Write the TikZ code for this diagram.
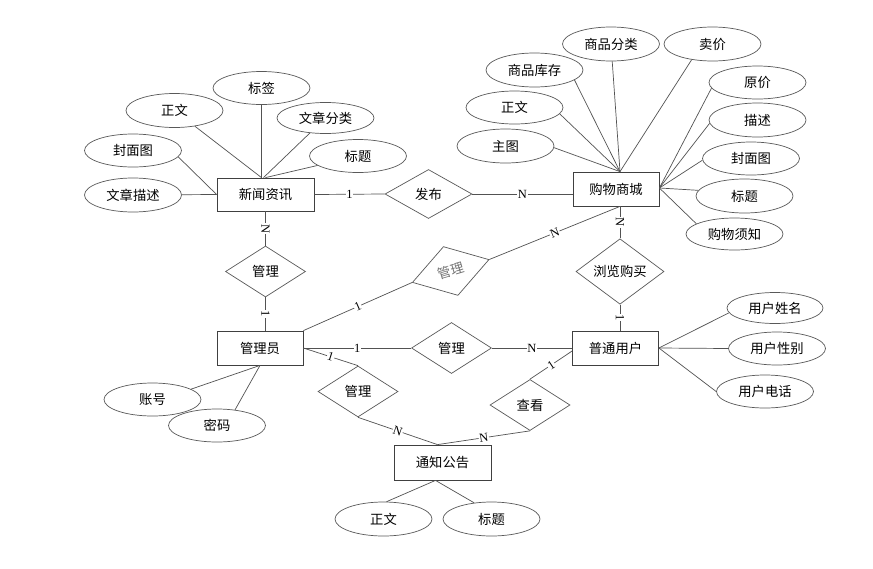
\documentclass[tikz,border=0pt]{standalone}
\usepackage{fontspec}
\newfontfamily\cjk{Noto Sans CJK SC}
\newfontfamily\labf{Liberation Serif}
\usetikzlibrary{shapes.geometric,calc}
\begin{document}
\begin{tikzpicture}[x=1pt,y=-1pt,
  cjkfont/.style={font=\cjk\fontsize{13.3}{15}\selectfont},
  ent/.style={draw=black!75, line width=0.8pt, rectangle, inner sep=0pt, cjkfont, minimum width=86pt, minimum height=34pt},
  attr/.style={draw=black!65, line width=0.7pt, ellipse, inner sep=0pt, minimum width=97pt, minimum height=33pt, cjkfont},
  rel/.style={draw=black!65, line width=0.7pt, diamond, inner sep=0pt, minimum width=80pt, minimum height=51pt, cjkfont},
  conn/.style={draw=black!68, line width=0.7pt},
  lab/.style={fill=white, inner sep=0.6pt, font=\labf\fontsize{12.5}{13}\selectfont}
]
\useasboundingbox[fill=white] (0,0) rectangle (873,568);

% entities
\node[ent, minimum width=97pt, minimum height=33pt] (xw) at (265.5,194.5) {新闻资讯};
\node[ent] (gw) at (616,189) {购物商城};
\node[ent] (gly) at (260,348) {管理员};
\node[ent] (pt) at (615.5,348) {普通用户};
\node[ent, minimum width=97pt, minimum height=35pt] (tz) at (442.5,462.5) {通知公告};

% relationships
\node[rel, minimum width=87pt, minimum height=49pt] (fb) at (428.5,194) {发布};
\node[rel] (gl1) at (265.5,271.5) {管理};
\node[rel, rotate=16.6, text=black!55] (gl2) at (450.7,271) {管理};
\node[rel, minimum width=88pt] (ll) at (620,271.5) {浏览购买};
\node[rel] (gl3) at (451.5,348) {管理};
\node[rel] (gl4) at (358,391.5) {管理};
\node[rel] (ck) at (530,405) {查看};

% connectors
\draw[conn] (xw.east) -- node[lab]{1} (fb.west);
\draw[conn] (fb.east) -- node[lab]{N} (fb.east -| gw.west);
\draw[conn] (xw.south) -- node[lab,sloped]{N} (gl1.north);
\draw[conn] (gl1.south) -- node[lab,sloped]{1} (gl1.south |- gly.north);
\draw[conn] (gly.north east) -- node[lab,sloped]{1} (gl2.west);
\draw[conn] (gl2.east) -- node[lab,sloped]{N} (ll.north |- gw.south);
\draw[conn] (ll.north |- gw.south) -- node[lab,sloped]{N} (ll.north);
\draw[conn] (ll.south) -- node[lab,sloped]{1} (ll.south |- pt.north);
\draw[conn] (gly.east) -- node[lab]{1} (gl3.west);
\draw[conn] (gl3.east) -- node[lab]{N} (pt.west);
\draw[conn] (gly.east) -- node[lab,sloped]{1} (gl4.north);
\draw[conn] (gl4.south) -- node[lab,sloped]{N} ($(tz.north)+(-5,0)$);
\draw[conn] (ck.south) -- node[lab,sloped]{N} ($(tz.north)+(-5,0)$);
\draw[conn] (ck.north) -- node[lab,sloped]{1} ($(pt.west)+(0,3)$);

% attributes of 新闻资讯
\node[attr] (x1) at (261.5,88) {标签};
\node[attr, minimum width=97pt, minimum height=34pt] (x2) at (174.5,110.5) {正文};
\node[attr, minimum height=31pt] (x3) at (325.5,118) {文章分类};
\node[attr] (x4) at (133,150.5) {封面图};
\node[attr] (x5) at (358,156) {标题};
\node[attr, minimum height=34pt] (x6) at (133,195) {文章描述};
\draw[conn] (x1.south) -- ($(xw.north)+(-4,0)$);
\draw[conn] (x2) -- ($(xw.north)+(-4,0)$);
\draw[conn] (x3) -- ($(xw.north)+(-2,0)$);
\draw[conn] (x5) -- (xw.north);
\draw[conn] (x4.-8) -- (xw.west);
\draw[conn] (x6) -- (xw.west);

% attributes of 购物商城
\node[attr, minimum height=34pt] (g1) at (611,44) {商品分类};
\node[attr, minimum height=34pt] (g2) at (712.5,44) {卖价};
\node[attr, minimum height=34pt] (g3) at (534.5,70) {商品库存};
\node[attr] (g4) at (757.5,82.5) {原价};
\node[attr] (g5) at (514.5,107.5) {正文};
\node[attr, minimum height=34pt] (g6) at (757.5,120) {描述};
\node[attr, minimum height=34pt] (g7) at (505.5,146) {主图};
\node[attr] (g8) at (751,158.5) {封面图};
\node[attr, minimum height=34pt] (g9) at (744.5,196) {标题};
\node[attr, minimum height=32pt] (g10) at (734.5,234) {购物须知};
\coordinate (gtop) at ($(gw.north)+(4,0)$);
\coordinate (gright) at ($(gw.east)+(0,-1)$);
\draw[conn] (g1) -- (gtop);
\draw[conn] (g2.217) -- (gtop);
\draw[conn] (g3.-14) -- (gtop);
\draw[conn] (g5.-8) -- (gtop);
\draw[conn] (g7.-2) -- (gtop);
\draw[conn] (g4.187) -- (gright);
\draw[conn] (g6.184) -- (gright);
\draw[conn] (g8.182) -- (gright);
\draw[conn] (g9.173) -- (gright);
\draw[conn] (g10.165) -- (gright);

% attributes of 管理员
\node[attr] (m1) at (152.5,399.5) {账号};
\node[attr] (m2) at (217,425.5) {密码};
\draw[conn] (m1.15) -- (gly.south);
\draw[conn] (m2.41) -- (gly.south);

% attributes of 普通用户
\node[attr, minimum width=96pt, minimum height=31pt] (p1) at (775,308) {用户姓名};
\node[attr] (p2) at (777,348.5) {用户性别};
\node[attr] (p3) at (765,391.5) {用户电话};
\draw[conn] (p1.186) -- (pt.east);
\draw[conn] (p2.west) -- (pt.east);
\draw[conn] (p3.west) -- (pt.east);

% attributes of 通知公告
\node[attr, minimum height=34pt] (t1) at (383.5,519) {正文};
\node[attr, minimum height=34pt] (t2) at (491.5,519) {标题};
\draw[conn] (t1.80) -- ($(tz.south)+(-7,0)$);
\draw[conn] (t2.137) -- ($(tz.south)+(-7,0)$);
\end{tikzpicture}
\end{document}
